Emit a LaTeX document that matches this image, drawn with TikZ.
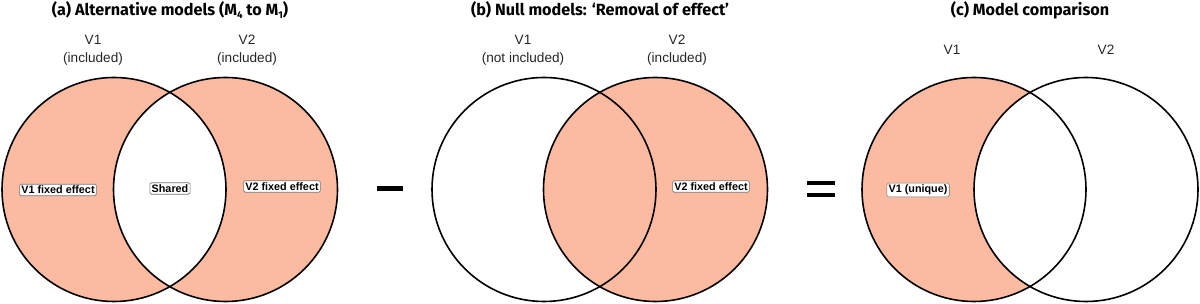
\documentclass[tikz,border=0pt]{standalone}
\usepackage{fontspec}
\setmainfont{Liberation Sans}
\newfontfamily\titlefont{Fira Sans}
\definecolor{salmon}{HTML}{FCBBA1}
\newcommand{\subdig}[1]{\raisebox{-2.5pt}{\fontsize{9.8}{9.8}\selectfont #1}}
\begin{document}
\begin{tikzpicture}[x=1pt,y=1pt,
 venn/.style={circle, minimum size=224pt, inner sep=0pt, draw=black, line width=1.6pt},
 ttl/.style={font=\titlefont\bfseries\fontsize{16.2}{18}\selectfont, inner sep=0pt},
 var/.style={font=\fontsize{13.6}{15}\selectfont, text=black!85, inner sep=0pt},
 tag/.style={draw=black!55, fill=white, rounded corners=1.5pt, line width=0.6pt, font=\bfseries\fontsize{10.8}{12}\selectfont, inner sep=1.8pt},
 opbar/.style={line width=5pt}
]
\useasboundingbox (0,0) rectangle (1200,304);
% fills
\fill[salmon, even odd rule] (114,114.5) circle (112pt) (225.5,114.5) circle (112pt);
\fill[salmon] (655.5,114.5) circle (112pt);
\fill[salmon] (974,114.5) circle (112pt);
\fill[white] (1086,114.5) circle (112pt);
% circles
\node[venn] (a1) at (114,114.5) {};
\node[venn] (a2) at (225.5,114.5) {};
\node[venn] (b1) at (544,114.5) {};
\node[venn] (b2) at (655.5,114.5) {};
\node[venn] (c1) at (974,114.5) {};
\node[venn] (c2) at (1086,114.5) {};
% titles
\node[ttl] (ta) at (170,294) {(a) Alternative models (M\subdig{4} to M\subdig{1})};
\node[ttl] (tb) at (600,294) {(b) Null models: ‘Removal of effect’};
\node[ttl] (tc) at (1030,294) {(c) Model comparison};
% variable labels
\node[var] (av1) at (93,264) {V1};
\node[var] (av1s) at (93,245) {(included)};
\node[var] (av2) at (247,264) {V2};
\node[var] (av2s) at (247,245) {(included)};
\node[var] (bv1) at (523,264) {V1};
\node[var] (bv1s) at (523,245) {(not included)};
\node[var] (bv2) at (677,264) {V2};
\node[var] (bv2s) at (677,245) {(included)};
\node[var] (cv1) at (952,254) {V1};
\node[var] (cv2) at (1106,254) {V2};
% tags
\node[tag] (t1) at (58,114) {V1 fixed effect};
\node[tag] (t2) at (170,115.5) {Shared};
\node[tag] (t3) at (282,117.5) {V2 fixed effect};
\node[tag] (t4) at (711,117.5) {V2 fixed effect};
\node[tag] (t5) at (918,114) {V1 (unique)};
% operators
\coordinate (m1) at (377,115);
\coordinate (m2) at (403,115);
\draw[opbar] (m1) -- (m2);
\coordinate (e1) at (807,121);
\coordinate (e2) at (835,121);
\coordinate (e3) at (807,109);
\coordinate (e4) at (835,109);
\draw[line width=4.5pt] (e1) -- (e2);
\draw[line width=4.5pt] (e3) -- (e4);
\end{tikzpicture}
\end{document}
